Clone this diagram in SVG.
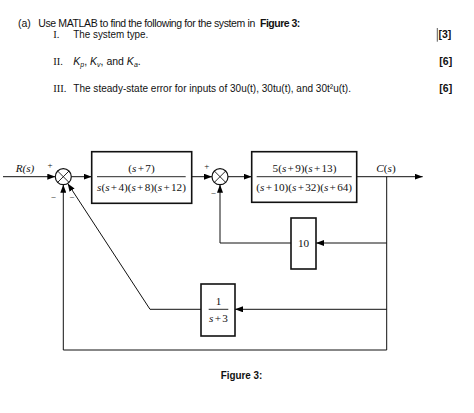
<svg xmlns="http://www.w3.org/2000/svg" width="474" height="413" viewBox="0 0 474 413">
<defs>
<marker id="arr" viewBox="0 0 8 6" refX="8" refY="3" markerWidth="8" markerHeight="6" markerUnits="userSpaceOnUse" orient="auto">
<path d="M0,0 L8,3 L0,6 z" fill="#000"/>
</marker>
<style>
.body{font-family:"Liberation Sans","Open Sans",sans-serif;font-size:10.5px;fill:#111}
.rom{font-family:"Liberation Serif",serif;font-size:10.5px;fill:#111}
.bold{font-weight:bold}
.math{font-family:"Liberation Serif",serif;font-size:11.2px;fill:#111;word-spacing:-1.5px}
.it{font-style:italic}
.blk{fill:#fff;stroke:#111;stroke-width:1.6}
.sum{fill:#fff;stroke:#111;stroke-width:1.2}
.wire{fill:none;stroke:#111;stroke-width:1}
.fr{stroke:#111;stroke-width:0.9}
.sign{font-family:"Liberation Serif",serif;font-size:9px;fill:#111}
</style>
</defs>
<rect width="474" height="413" fill="#fff"/>

<g id="question">
<text class="body" x="18" y="26.7">(a)</text>
<text class="body" x="38.3" y="26.7" font-size="10" letter-spacing="-0.38">Use MATLAB to find the following for the system in</text>
<text class="body bold" x="260" y="26.7" font-size="10" letter-spacing="-0.5">Figure 3:</text>
<text class="rom" x="53.3" y="38.3">I.</text>
<text class="body" x="73.3" y="38.3" textLength="75" lengthAdjust="spacingAndGlyphs">The system type.</text>
<line x1="437.3" y1="28" x2="437.3" y2="41.7" stroke="#333" stroke-width="0.8"/>
<text class="body bold" x="438.5" y="38.3">[3]</text>
<text class="rom" x="53.3" y="65">II.</text>
<text class="body" x="73.3" y="65"><tspan class="it">K</tspan><tspan class="it" font-size="7" dy="2">p</tspan><tspan dy="-2">, </tspan><tspan class="it">K</tspan><tspan class="it" font-size="7" dy="2">v</tspan><tspan dy="-2">, and </tspan><tspan class="it">K</tspan><tspan class="it" font-size="7" dy="2">a</tspan><tspan dy="-2">.</tspan></text>
<text class="body bold" x="439.3" y="65">[6]</text>
<text class="rom" x="53.3" y="91.7">III.</text>
<text class="body" x="73.3" y="91.7" textLength="277.7" lengthAdjust="spacingAndGlyphs">The steady-state error for inputs of 30u(t), 30tu(t), and 30t²u(t).</text>
<text class="body bold" x="439.3" y="91.7">[6]</text>
</g>

<g id="connectors">
<line class="wire" x1="3" y1="176.7" x2="55.3" y2="176.7" marker-end="url(#arr)"/>
<line class="wire" x1="71.3" y1="176.7" x2="91.7" y2="176.7" marker-end="url(#arr)"/>
<line class="wire" x1="191.7" y1="176.7" x2="212" y2="176.7" marker-end="url(#arr)"/>
<line class="wire" x1="228" y1="176.7" x2="251.7" y2="176.7" marker-end="url(#arr)"/>
<line class="wire" x1="356.7" y1="176.7" x2="422.7" y2="176.7" marker-end="url(#arr)"/>
<polyline class="wire" points="386.7,176.7 386.7,350 63.3,350 63.3,184.7" marker-end="url(#arr)"/>
<line class="wire" x1="386.7" y1="243" x2="316" y2="243" marker-end="url(#arr)"/>
<polyline class="wire" points="291,243 220,243 220,184.7" marker-end="url(#arr)"/>
<line class="wire" x1="386.7" y1="309.3" x2="235" y2="309.3" marker-end="url(#arr)"/>
<polyline class="wire" points="201,309.3 150,309.3 67.7,183.4" marker-end="url(#arr)"/>
</g>

<g id="sum1">
<circle class="sum" cx="63.3" cy="176.7" r="8"/>
<line class="fr" x1="57.6" y1="171" x2="69" y2="182.4"/>
<line class="fr" x1="69" y1="171" x2="57.6" y2="182.4"/>
<text class="sign" x="50" y="168" text-anchor="middle">+</text>
<text class="sign" x="53.3" y="199.5" text-anchor="middle">−</text>
<text class="sign" x="71.7" y="199.5" text-anchor="middle">−</text>
</g>

<g id="sum2">
<circle class="sum" cx="220" cy="176.7" r="8"/>
<line class="fr" x1="214.3" y1="171" x2="225.7" y2="182.4"/>
<line class="fr" x1="225.7" y1="171" x2="214.3" y2="182.4"/>
<text class="sign" x="206.7" y="168.5" text-anchor="middle">+</text>
<text class="sign" x="213.3" y="196" text-anchor="middle">−</text>
</g>

<g id="labels">
<text class="math it" x="25" y="171.7" text-anchor="middle">R(s)</text>
<text class="math" x="386" y="171.7" text-anchor="middle"><tspan class="it">C</tspan>(<tspan class="it">s</tspan>)</text>
</g>

<g id="G1">
<rect class="blk" x="91.7" y="151.7" width="100" height="51.6"/>
<line class="fr" x1="97" y1="176.7" x2="185.7" y2="176.7"/>
<text class="math" x="141.5" y="171.7" text-anchor="middle">(<tspan class="it">s</tspan> + 7)</text>
<text class="math" x="141.5" y="190.5" text-anchor="middle"><tspan class="it">s</tspan>(<tspan class="it">s</tspan> + 4)(<tspan class="it">s</tspan> + 8)(<tspan class="it">s</tspan> + 12)</text>
</g>

<g id="G2">
<rect class="blk" x="251.7" y="151.7" width="105" height="50.6"/>
<line class="fr" x1="256.7" y1="176.7" x2="351.7" y2="176.7"/>
<text class="math" x="304.5" y="171.7" text-anchor="middle">5(<tspan class="it">s</tspan> + 9)(<tspan class="it">s</tspan> + 13)</text>
<text class="math" x="304.2" y="190.5" text-anchor="middle">(<tspan class="it">s</tspan> + 10)(<tspan class="it">s</tspan> + 32)(<tspan class="it">s</tspan> + 64)</text>
</g>

<g id="H1">
<rect class="blk" x="291" y="218" width="25" height="51"/>
<text class="math" x="303.5" y="247" text-anchor="middle">10</text>
</g>

<g id="H2">
<rect class="blk" x="201" y="284" width="34" height="52"/>
<text class="math" x="218.5" y="305" text-anchor="middle">1</text>
<line class="fr" x1="208.7" y1="309.3" x2="228.3" y2="309.3"/>
<text class="math" x="218.5" y="322" text-anchor="middle"><tspan class="it">s</tspan> + 3</text>
</g>

<g id="caption">
<text class="body bold" x="241.5" y="379.3" text-anchor="middle" textLength="41.6" lengthAdjust="spacingAndGlyphs">Figure 3:</text>
</g>
</svg>
